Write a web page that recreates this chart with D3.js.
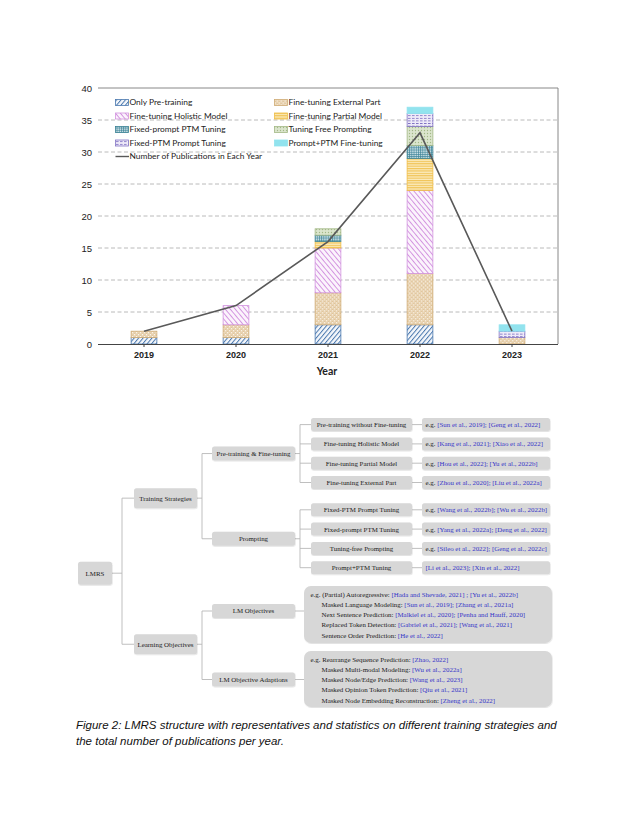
<!DOCTYPE html>
<html>
<head>
<meta charset="utf-8">
<style>
  body { margin: 0; background: #fff; }
  svg { display: block; }
</style>
</head>
<body>
<svg id="container" width="638" height="826"></svg>

<script src="https://d3js.org/d3.v7.min.js"></script>
<script>
  // ---- chart data ----
  const years = ['2019', '2020', '2021', '2022', '2023']
  const onlyPre = [1, 1, 3, 3, 0]
  const externalPart = [1, 2, 5, 8, 1]
  const holistic = [0, 3, 7, 13, 0]
  const partial = [0, 0, 1, 5, 0]
  const fixedPromptPTM = [0, 0, 1, 2, 0]
  const tuningFree = [0, 0, 1, 3, 0]
  const fixedPTMPrompt = [0, 0, 0, 2, 1]
  const promptPTM = [0, 0, 0, 1, 1]
  const publications = [2, 6, 16, 33, 2]
  const yTicks = [0, 5, 10, 15, 20, 25, 30, 35, 40]

  // stacking order, bottom to top
  const seriesKeys = ['pre', 'ext', 'hol', 'par', 'fpp', 'tf', 'fpt', 'pp']
  const seriesNames = {
    pre: 'Only Pre-training', ext: 'Fine-tuning External Part', hol: 'Fine-tuning Holistic Model',
    par: 'Fine-tuning Partial Model', fpp: 'Fixed-prompt PTM Tuning', tf: 'Tuning Free Prompting',
    fpt: 'Fixed-PTM Prompt Tuning', pp: 'Prompt+PTM Fine-tuning'
  }
  const seriesValues = {
    pre: onlyPre, ext: externalPart, hol: holistic, par: partial,
    fpp: fixedPromptPTM, tf: tuningFree, fpt: fixedPTMPrompt, pp: promptPTM
  }
  const legendLeft = ['pre', 'hol', 'fpp', 'fpt']
  const legendRight = ['ext', 'par', 'tf', 'pp']
  const lineName = 'Number of Publications in Each Year'

  // ---- tree data ----
  const pretrainLeaves = [
    ['Pre-training without Fine-tuning', 'e.g. ', '[Sun et al., 2019]; [Geng et al., 2022]'],
    ['Fine-tuning Holistic Model', 'e.g. ', '[Kang et al., 2021]; [Xiao et al., 2022]'],
    ['Fine-tuning Partial Model', 'e.g. ', '[Hou et al., 2022]; [Yu et al., 2022b]'],
    ['Fine-tuning External Part', 'e.g. ', '[Zhou et al., 2020]; [Liu et al., 2022a]']
  ]
  const promptLeaves = [
    ['Fixed-PTM Prompt Tuning', 'e.g. ', '[Wang et al., 2022b]; [Wu et al., 2022b]'],
    ['Fixed-prompt PTM Tuning', 'e.g. ', '[Yang et al., 2022a]; [Deng et al., 2022]'],
    ['Tuning-free Prompting', 'e.g. ', '[Sileo et al., 2022]; [Geng et al., 2022c]'],
    ['Prompt+PTM Tuning', '', '[Li et al., 2023]; [Xin et al., 2022]']
  ]
  const lmObjectives = [
    ['e.g. (Partial) Autoregressive: ', '[Hada and Shevade, 2021] ; [Yu et al., 2022b]'],
    ['Masked Language Modeling: ', '[Sun et al., 2019]; [Zhang et al., 2021a]'],
    ['Next Sentence Prediction: ', '[Malkiel et al., 2020]; [Penha and Hauff, 2020]'],
    ['Replaced Token Detection: ', '[Gabriel et al., 2021]; [Wang et al., 2021]'],
    ['Sentence Order Prediction: ', '[He et al., 2022]']
  ]
  const lmAdaptions = [
    ['e.g. Rearrange Sequence Prediction: ', '[Zhao, 2022]'],
    ['Masked Multi-modal Modeling: ', '[Wu et al., 2022a]'],
    ['Masked Node/Edge Prediction: ', '[Wang et al., 2023]'],
    ['Masked Opinion Token Prediction: ', '[Qiu et al., 2021]'],
    ['Masked Node Embedding Reconstruction: ', '[Zheng et al., 2022]']
  ]
  const caption = [
    'Figure 2: LMRS structure with representatives and statistics on different training strategies and',
    'the total number of publications per year.'
  ]

  const svg = d3.select('#container')
  const defs = svg.append('defs')

  // ---- fill patterns ----
  function pattern(id, w, h, bg, draw, transform) {
    const p = defs.append('pattern').attr('id', id)
      .attr('patternUnits', 'userSpaceOnUse').attr('width', w).attr('height', h)
    if (transform) p.attr('patternTransform', transform)
    p.append('rect').attr('width', w).attr('height', h).attr('fill', bg)
    draw(p)
  }
  pattern('p-pre', 3.4, 3.4, '#f4f7fb', p => p.append('line').attr('x1', 0).attr('y1', 0).attr('x2', 0).attr('y2', 3.4)
    .attr('stroke', '#4a78ae').attr('stroke-width', 2), 'rotate(40)')
  pattern('p-ext', 2.8, 2.8, '#f3e4cb', p => {
    p.append('rect').attr('x', 0.45).attr('y', 0.45).attr('width', 1.9).attr('height', 1.9)
      .attr('fill', '#fffcf6').attr('stroke', '#d6b47f').attr('stroke-width', 0.45)
  }, 'rotate(45)')
  pattern('p-hol', 3.8, 3.8, '#fbf3fc', p => p.append('line').attr('x1', 0).attr('y1', 0).attr('x2', 0).attr('y2', 3.8)
    .attr('stroke', '#d293df').attr('stroke-width', 1.9), 'rotate(-40)')
  pattern('p-par', 4, 2.4, '#fbecc0', p => p.append('line').attr('x1', 0).attr('y1', 0.6).attr('x2', 4).attr('y2', 0.6)
    .attr('stroke', '#efbd45').attr('stroke-width', 1))
  pattern('p-fpp', 2.2, 2.2, '#d3e5ea', p => {
    p.append('line').attr('x1', 0).attr('y1', 0.5).attr('x2', 2.2).attr('y2', 0.5).attr('stroke', '#3a8295').attr('stroke-width', 0.7)
    p.append('line').attr('x1', 0.5).attr('y1', 0).attr('x2', 0.5).attr('y2', 2.2).attr('stroke', '#3a8295').attr('stroke-width', 0.7)
  })
  pattern('p-tf', 3, 3, '#dbe5cd', p => p.append('circle').attr('cx', 1.5).attr('cy', 1.5).attr('r', 0.65).attr('fill', '#a3b887'))
  pattern('p-fpt', 4, 2.6, '#eeeaf8', p => p.append('line').attr('x1', 0).attr('y1', 1.3).attr('x2', 2.6).attr('y2', 1.3)
    .attr('stroke', '#8274c4').attr('stroke-width', 0.9))
  const fills = {
    pre: 'url(#p-pre)', ext: 'url(#p-ext)', hol: 'url(#p-hol)', par: 'url(#p-par)',
    fpp: 'url(#p-fpp)', tf: 'url(#p-tf)', fpt: 'url(#p-fpt)', pp: '#92e3ee'
  }
  const strokes = {
    pre: '#4a78ae', ext: '#cfab74', hol: '#d293df', par: '#efbd45',
    fpp: '#3a8295', tf: '#a3b887', fpt: '#8274c4', pp: '#92e3ee'
  }

  // ---- bar chart ----
  const plot = { left: 98, right: 558, top: 88, bottom: 344 }
  const xScale = d3.scaleBand().domain(years).range([plot.left, plot.right])
    .paddingInner(0.72).paddingOuter(0.36)
  const yScale = d3.scaleLinear().domain([0, 40]).range([plot.bottom, plot.top])

  const chart = svg.append('g').attr('font-family', 'Lato, "Open Sans", sans-serif')

  // grid
  chart.append('g').selectAll('line').data(yTicks.filter(t => t > 0 && t < 40)).enter().append('line')
    .attr('x1', plot.left).attr('x2', plot.right)
    .attr('y1', d => yScale(d)).attr('y2', d => yScale(d))
    .attr('stroke', '#a8a8a8').attr('stroke-width', 0.8).attr('stroke-dasharray', '4,2.5')

  // frame
  chart.append('path')
    .attr('d', `M${plot.left},${plot.top}H${plot.right}V${plot.bottom}`)
    .attr('fill', 'none').attr('stroke', '#7a7a7a').attr('stroke-width', 0.9)

  const rows = years.map((y, i) => {
    const r = { year: y }
    seriesKeys.forEach(k => { r[k] = seriesValues[k][i] })
    return r
  })
  const stacked = d3.stack().keys(seriesKeys)(rows)

  chart.append('g').selectAll('g').data(stacked).enter().append('g')
    .attr('fill', d => fills[d.key]).attr('stroke', d => strokes[d.key]).attr('stroke-width', 0.8)
    .selectAll('rect').data(d => d.filter(s => s[1] > s[0])).enter().append('rect')
    .attr('x', d => xScale(d.data.year))
    .attr('width', xScale.bandwidth())
    .attr('y', d => yScale(d[1]))
    .attr('height', d => yScale(d[0]) - yScale(d[1]))

  // axes
  const yAxis = d3.axisLeft(yScale).tickValues(yTicks).tickSize(0).tickPadding(6)
  chart.append('g').attr('transform', `translate(${plot.left},0)`).call(yAxis)
    .call(g => g.select('.domain').remove())
    .selectAll('text').attr('font-size', 9.5).attr('fill', '#222')

  const xAxis = d3.axisBottom(xScale).tickSize(3).tickPadding(5)
  chart.append('g').attr('transform', `translate(0,${plot.bottom})`).call(xAxis)
    .call(g => g.select('.domain').attr('d', `M${plot.left},0.5H${plot.right}`).attr('stroke', '#444').attr('stroke-width', 1))
    .call(g => g.selectAll('.tick line').attr('stroke', '#444'))
    .selectAll('text').attr('font-size', 9).attr('font-weight', 'bold').attr('fill', '#222')

  chart.append('text').attr('x', (plot.left + plot.right) / 2 - 1).attr('y', 375)
    .attr('text-anchor', 'middle').attr('font-size', 10.5).attr('font-weight', 'bold').attr('fill', '#222')
    .text('Year')

  // publications line
  const line = d3.line().x((d, i) => xScale(years[i]) + xScale.bandwidth() / 2).y(d => yScale(d))
  chart.append('path').datum(publications).attr('d', line)
    .attr('fill', 'none').attr('stroke', '#595959').attr('stroke-width', 1.6)

  // legend
  const legendRowY = [102.5, 116, 129.5, 143, 156.5]
  function legendCol(keys, x) {
    const g = chart.append('g')
    keys.forEach((k, i) => {
      g.append('rect').attr('x', x).attr('y', legendRowY[i] - 3).attr('width', 13).attr('height', 6)
        .attr('fill', fills[k]).attr('stroke', strokes[k]).attr('stroke-width', 0.8)
      g.append('text').attr('x', x + 14).attr('y', legendRowY[i]).attr('dy', '0.35em')
        .attr('font-size', 8.4).attr('fill', '#222').text(seriesNames[k])
    })
  }
  legendCol(legendLeft, 115.5)
  legendCol(legendRight, 274.5)
  chart.append('line').attr('x1', 115.5).attr('x2', 129).attr('y1', legendRowY[4]).attr('y2', legendRowY[4])
    .attr('stroke', '#595959').attr('stroke-width', 1.4)
  chart.append('text').attr('x', 129.5).attr('y', legendRowY[4]).attr('dy', '0.35em')
    .attr('font-size', 8.4).attr('fill', '#222').text(lineName)

  // ---- tree diagram ----
  const tree = svg.append('g').attr('font-family', '"Liberation Serif", "Times New Roman", serif').attr('font-size', 6.9)
  const boxFill = '#d7d7d7'
  const lineColor = '#b8b8b8'
  const citeColor = '#3535c8'
  const shadow = defs.append('filter').attr('id', 'sh').attr('x', '-10%').attr('y', '-20%').attr('width', '120%').attr('height', '150%')
  shadow.append('feDropShadow').attr('dx', 0.4).attr('dy', 0.6).attr('stdDeviation', 0.6).attr('flood-color', '#000').attr('flood-opacity', 0.18)

  function box(x0, x1, yc, h, label, r) {
    tree.append('rect').attr('x', x0).attr('y', yc - h / 2).attr('width', x1 - x0).attr('height', h)
      .attr('rx', r || 2.5).attr('fill', boxFill).attr('filter', 'url(#sh)')
    if (label) {
      tree.append('text').attr('x', (x0 + x1) / 2).attr('y', yc).attr('dy', '0.35em')
        .attr('text-anchor', 'middle').attr('fill', '#1a1a1a').text(label)
    }
  }
  function link(pts) {
    tree.append('path').attr('d', d3.line()(pts)).attr('fill', 'none')
      .attr('stroke', lineColor).attr('stroke-width', 0.9)
  }
  function fork(xFrom, yFrom, xMid, xTo, ys) {
    link([[xFrom, yFrom], [xMid, yFrom]])
    link([[xMid, d3.min(ys)], [xMid, d3.max(ys)]])
    ys.forEach(y => link([[xMid, y], [xTo, y]]))
  }

  const leafStep = 19.3
  const leafTop = 424.6
  const groupGap = 8
  const preYs = pretrainLeaves.map((d, i) => leafTop + i * leafStep)
  const promptYs = promptLeaves.map((d, i) => leafTop + (i + 4) * leafStep + groupGap)
  const preY = d3.mean(preYs)
  const promptY = d3.mean(promptYs)
  const trainY = (preY + promptY) / 2 + 2
  const objBox = [586, 643]
  const adaBox = [651, 707]
  const objY = 611
  const adaY = 679.5
  const learnY = (objY + adaY) / 2 - 1
  const rootY = (trainY + learnY) / 2 + 2

  // leaves and examples
  function leafRow(d, y) {
    box(311, 412, y, 13, d[0])
    link([[412, y], [422, y]])
    box(422, 550, y, 13, null)
    const t = tree.append('text').attr('x', 425.5).attr('y', y).attr('dy', '0.35em')
    if (d[1]) t.append('tspan').attr('fill', '#1a1a1a').text(d[1])
    t.append('tspan').attr('fill', citeColor).text(d[2])
  }
  pretrainLeaves.forEach((d, i) => leafRow(d, preYs[i]))
  promptLeaves.forEach((d, i) => leafRow(d, promptYs[i]))

  fork(295, preY, 300, 311, preYs)
  fork(295, promptY, 300, 311, promptYs)
  fork(197, trainY, 202, 212, [preY, promptY])
  fork(197, learnY, 202, 212, [objY, adaY])
  fork(112, rootY, 122, 134, [trainY, learnY])

  box(212, 295, preY, 14, 'Pre-training & Fine-tuning')
  box(212, 295, promptY, 14, 'Prompting')
  box(212, 295, objY, 14, 'LM Objectives')
  box(212, 295, adaY, 14, 'LM Objective Adaptions')
  box(134, 197, trainY, 20, 'Training Strategies')
  box(134, 197, learnY, 20, 'Learning Objectives')
  box(78, 112, rootY, 23, 'LMRS')

  function bigBox(b, lines, yLink) {
    link([[295, yLink], [304, yLink]])
    box(304, 552, (b[0] + b[1]) / 2, b[1] - b[0], null, 7)
    lines.forEach((d, i) => {
      const t = tree.append('text').attr('x', i === 0 ? 310.5 : 321.5).attr('y', b[0] + 8.3 + i * 10.2).attr('dy', '0.35em')
      t.append('tspan').attr('fill', '#1a1a1a').text(d[0])
      t.append('tspan').attr('fill', citeColor).text(d[1])
    })
  }
  bigBox(objBox, lmObjectives, objY)
  bigBox(adaBox, lmAdaptions, adaY)

  // ---- caption ----
  svg.append('g').attr('font-family', '"Liberation Sans", Arial, sans-serif').attr('font-style', 'italic')
    .attr('font-size', 11.5).attr('fill', '#111')
    .selectAll('text').data(caption).enter().append('text')
    .attr('x', 76).attr('y', (d, i) => 725 + i * 16.2).attr('dy', '0.35em')
    .text(d => d)
</script>
</body>
</html>
